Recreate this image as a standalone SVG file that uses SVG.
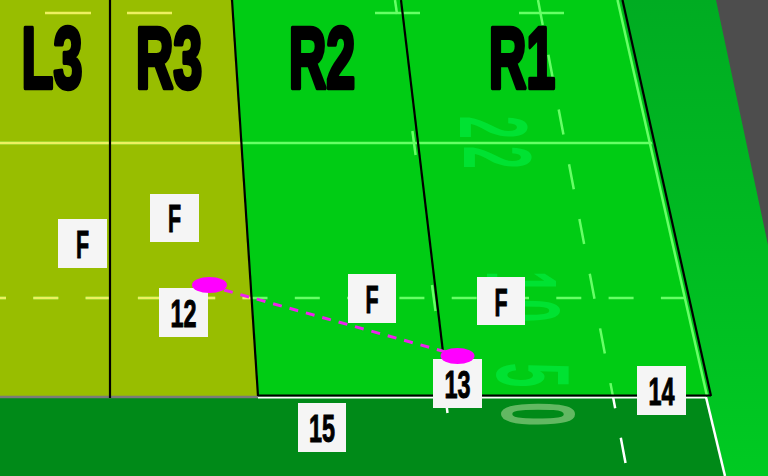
<svg xmlns="http://www.w3.org/2000/svg" width="768" height="476" viewBox="0 0 768 476">
<defs>
<linearGradient id="band" x1="0" y1="0" x2="0" y2="1">
<stop offset="0" stop-color="#00ac22"/>
<stop offset="1" stop-color="#00ca22"/>
</linearGradient>
<clipPath id="oliveClip"><polygon points="0,0 232,0 258,396 0,396"/></clipPath>
<clipPath id="pitchClip"><polygon points="0,0 620,0 709,396 0,396"/></clipPath>
<clipPath id="darkClip"><polygon points="0,397 706,397 726,476 0,476"/></clipPath>
<style>
.zone{font-family:"Liberation Sans",Arial,sans-serif;font-weight:bold;font-size:87px;fill:#000;stroke:#000;stroke-width:4.5;stroke-linejoin:round;text-anchor:middle}
.box rect{fill:#f5f5f5}
.box text{font-family:"Liberation Sans",Arial,sans-serif;font-weight:bold;font-size:39px;fill:#000;stroke:#000;stroke-width:1;text-anchor:middle}
.mark{font-family:"Liberation Sans",Arial,sans-serif;font-weight:bold;fill:#00e232}
.bl{stroke:#000;stroke-width:2.2;fill:none}
.gl{stroke:#66ff66;stroke-width:2.5;fill:none}
.yl{stroke:#eef060;stroke-width:2.5;fill:none}
.wl{stroke:#ffffff;stroke-width:2.5;fill:none}
.blob{fill:#ff00ff}
</style>
</defs>

<!-- background areas -->
<rect x="0" y="0" width="768" height="476" fill="url(#band)"/>
<polygon points="716,0 768,0 768,245" fill="#4d4d4d"/>
<polygon points="0,0 620,0 709,396 0,396" fill="#00cc14"/>
<polygon points="0,396 707,396 726,476 0,476" fill="#008a18"/>
<polygon points="0,0 232,0 258,396 0,396" fill="#98be00"/>

<!-- painted numbers -->
<g id="markings">
<text class="mark" style="font-size:97px" transform="translate(460,116) rotate(90) scale(0.42,1)">2</text>
<text class="mark" style="font-size:97px" transform="translate(464,146) rotate(90) scale(0.42,1)">2</text>
<text class="mark" style="font-size:100px" transform="translate(487,271) rotate(90) scale(0.42,1)">1</text>
<text class="mark" style="font-size:100px" transform="translate(490,299) rotate(90) scale(0.42,1)">0</text>
<text class="mark" style="font-size:104px" transform="translate(497,363) rotate(90) scale(0.42,1)">5</text>
<text class="mark" style="font-size:104px;fill:#62b862" transform="translate(502,402) rotate(90) scale(0.42,1)">0</text>
</g>

<!-- pitch lines -->
<g id="pitch-lines">
<g clip-path="url(#pitchClip)">
<line class="gl" x1="0" y1="143" x2="660" y2="143"/>
<line class="gl" x1="-19" y1="298" x2="690" y2="298" stroke-dasharray="25 27.3"/>
<line class="gl" x1="375" y1="13" x2="420" y2="13"/>
<line class="gl" x1="519" y1="13" x2="564" y2="13"/>
<line class="gl" x1="395" y1="0" x2="397" y2="14"/>
<line class="gl" x1="412.4" y1="131" x2="415.6" y2="155"/>
<line class="gl" x1="432" y1="285" x2="435.5" y2="311"/>
<line class="gl" x1="538" y1="0" x2="628" y2="476" stroke-dasharray="25.5 30.2"/>
</g>
<g clip-path="url(#oliveClip)">
<line class="yl" x1="0" y1="143" x2="260" y2="143"/>
<line class="yl" x1="-19" y1="298" x2="260" y2="298" stroke-dasharray="25 27.3"/>
<line class="yl" x1="45" y1="13" x2="91" y2="13"/>
<line class="yl" x1="127" y1="13" x2="172" y2="13"/>
</g>
<g clip-path="url(#darkClip)">
<line class="wl" x1="538" y1="0" x2="628" y2="476" stroke-dasharray="25.5 30.2"/>
<line class="wl" x1="446" y1="401" x2="447.5" y2="413"/>
</g>
<line class="gl" x1="617.5" y1="0" x2="707" y2="396" stroke-width="2"/>
<line class="wl" x1="706" y1="397" x2="725" y2="476"/>
<line x1="0" y1="397" x2="258" y2="397" stroke="#7a7a7a" stroke-width="2.5"/>
<line x1="258" y1="397.5" x2="706" y2="397.5" stroke="#ffffff" stroke-width="2"/>
<line class="bl" x1="258" y1="395.5" x2="711" y2="395.5" stroke-width="1.5"/>
</g>

<!-- zone boundaries -->
<g id="zone-lines">
<line class="bl" x1="110" y1="0" x2="110" y2="398"/>
<line class="bl" x1="232" y1="0" x2="258" y2="396"/>
<line class="bl" x1="401" y1="0" x2="443" y2="352"/>
<line class="bl" x1="622.5" y1="0" x2="711" y2="396"/>
</g>

<!-- zone labels -->
<g id="zone-L3"><text class="zone" transform="translate(52,88) scale(0.6,1)">L3</text></g>
<g id="zone-R3"><text class="zone" transform="translate(169,88) scale(0.6,1)">R3</text></g>
<g id="zone-R2"><text class="zone" transform="translate(322,88) scale(0.6,1)">R2</text></g>
<g id="zone-R1"><text class="zone" transform="translate(522,88) scale(0.6,1)">R1</text></g>

<!-- boxes -->
<g id="f-L3" class="box"><rect x="58" y="219" width="49" height="49"/><text transform="translate(82.5,258) scale(0.55,1)">F</text></g>
<g id="f-R3" class="box"><rect x="150" y="194" width="49" height="48"/><text transform="translate(174.5,232) scale(0.55,1)">F</text></g>
<g id="f-R2" class="box"><rect x="348" y="274" width="48" height="49"/><text transform="translate(372,313) scale(0.55,1)">F</text></g>
<g id="f-R1" class="box"><rect x="477" y="277" width="48" height="48"/><text transform="translate(501,316) scale(0.55,1)">F</text></g>
<g id="n12" class="box"><rect x="159" y="288" width="49" height="49"/><text transform="translate(183.5,326.5) scale(0.6,1)">12</text></g>
<g id="n13" class="box"><rect x="433" y="359" width="49" height="49"/><text transform="translate(457.5,397.5) scale(0.6,1)">13</text></g>
<g id="n14" class="box"><rect x="637" y="366" width="49" height="49"/><text transform="translate(661.5,404.5) scale(0.6,1)">14</text></g>
<g id="n15" class="box"><rect x="298" y="403" width="48" height="49"/><text transform="translate(322,441.5) scale(0.6,1)">15</text></g>

<!-- connector -->
<g id="connectors">
<line x1="224" y1="290" x2="446" y2="352" stroke="#ee22ee" stroke-width="3" stroke-dasharray="9 8"/>
</g>

<!-- players -->
<g id="p12"><ellipse class="blob" cx="209.5" cy="285" rx="17.5" ry="8"/></g>
<g id="p13"><ellipse class="blob" cx="457.5" cy="356" rx="17" ry="8"/></g>
</svg>
